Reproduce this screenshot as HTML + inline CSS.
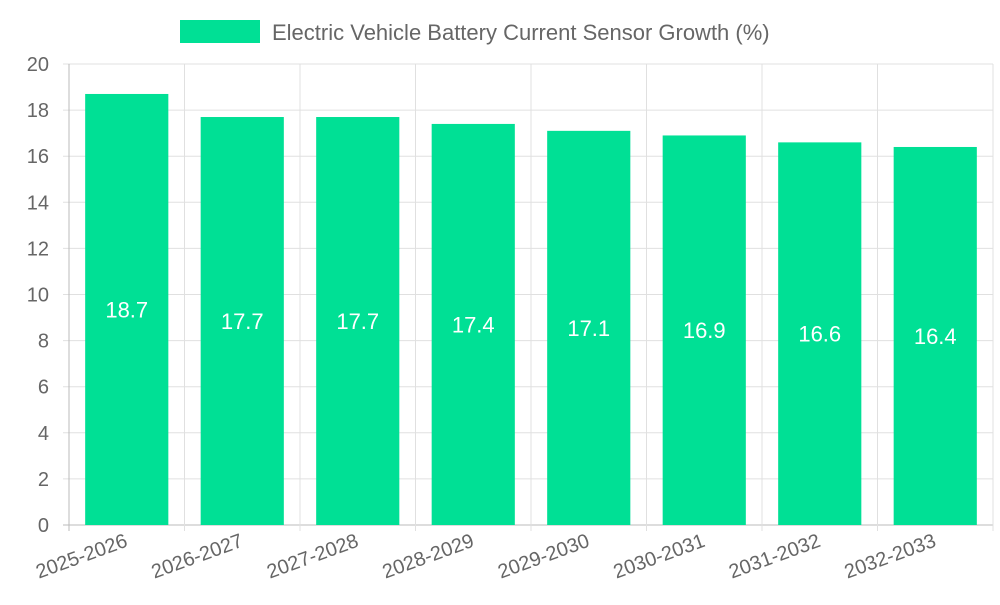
<!DOCTYPE html>
<html><head><meta charset="utf-8"><style>
body{margin:0;background:#fff;}
svg{font-family:"Liberation Sans",Arial,sans-serif;}
</style></head><body>
<svg id="c" width="1000" height="600">
<g>
<rect x="180" y="20" width="80" height="23" fill="#00e095"/>
<text x="272" y="40" font-size="22" fill="#666">Electric Vehicle Battery Current Sensor Growth (%)</text>
</g>
<g id="grid"></g>
<g id="bars"></g>
<g id="axes"></g>
</svg>
<script>
const categories=["2025-2026","2026-2027","2027-2028","2028-2029","2029-2030","2030-2031","2031-2032","2032-2033"];
const values=[18.7,17.7,17.7,17.4,17.1,16.9,16.6,16.4];
const yTicks=[0,2,4,6,8,10,12,14,16,18,20];
const NS="http://www.w3.org/2000/svg";
const L=69,R=993,T=64,B=525,yMax=20;
const bw=(R-L)/categories.length;
const y=v=>B-(v/yMax)*(B-T);
const x=i=>L+i*bw;
function mk(p,tag,a,txt){const e=document.createElementNS(NS,tag);for(const k in a)e.setAttribute(k,a[k]);if(txt!==undefined)e.textContent=txt;p.appendChild(e);return e;}
const g=document.getElementById('grid'),bars=document.getElementById('bars'),ax=document.getElementById('axes');
yTicks.forEach(t=>{
 const l=mk(g,'line',{x1:L-6,x2:R,y1:y(t),y2:y(t),stroke:t===0?'#bbb':'#e0e0e0','stroke-width':1});
 
 const tx=mk(ax,'text',{x:L-20,y:y(t)+7,'text-anchor':'end','font-size':20,fill:'#666'},String(t));
 
});
for(let i=0;i<=categories.length;i++){
 const l=mk(g,'line',{x1:x(i),x2:x(i),y1:T,y2:B+6,stroke:i===0?'#bbb':'#e0e0e0','stroke-width':1});
 
}
categories.forEach((c,i)=>{
 const cx=x(i)+bw/2,w=bw*0.72;
 const r=mk(bars,'rect',{x:cx-w/2,y:y(values[i]),width:w,height:B-y(values[i]),fill:'#00e095'});
 
 const v=mk(bars,'text',{x:cx,y:(y(values[i])+B)/2+8,'text-anchor':'middle','font-size':22,fill:'#fff'},String(values[i]));
 
 const t=mk(ax,'text',{x:cx+2,y:546,'text-anchor':'end','font-size':20,fill:'#666',transform:`rotate(-20 ${cx+2} 546)`},c);
 
});
</script>
</body></html>
